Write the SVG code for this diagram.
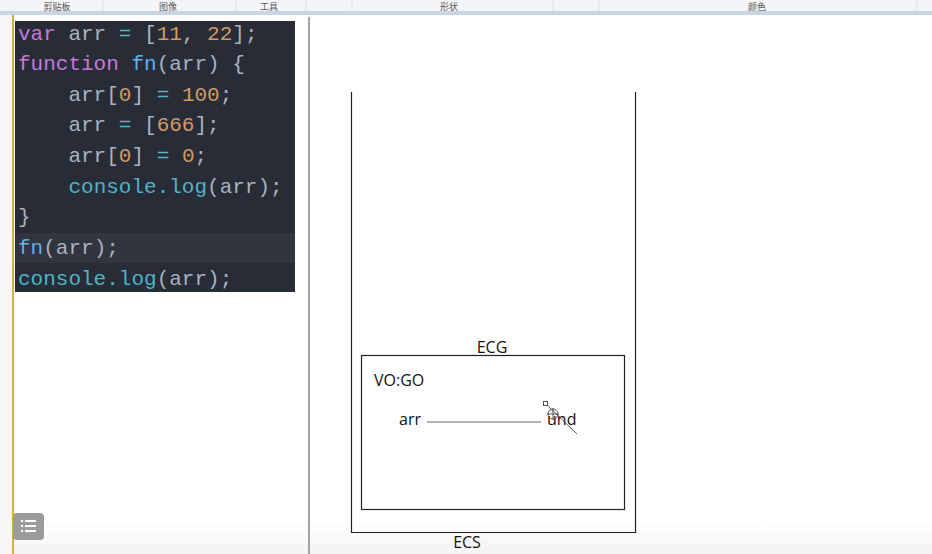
<svg xmlns="http://www.w3.org/2000/svg" width="932" height="554" viewBox="0 0 932 554">
<style>
.tb{font-family:"Noto Sans CJK SC","Noto Sans",sans-serif;font-size:9px;fill:#555;text-anchor:middle}
.code{font-family:"Liberation Mono","DejaVu Sans Mono",monospace;font-size:21px;fill:#abb2bf;white-space:pre}
.kw{fill:#c678dd}.num{fill:#d19a66}.op{fill:#56b6c2}.fn{fill:#61afef}.cl{fill:#4fb3c8}
.lbl{font-family:"Open Sans","Noto Sans",sans-serif;font-size:16px;fill:#111}
.box{fill:none;stroke:#222;stroke-width:1.2}
</style>
<defs>
<linearGradient id="bot" x1="0" y1="0" x2="0" y2="1"><stop offset="0" stop-color="#ffffff"/><stop offset="1" stop-color="#f3f3f3"/></linearGradient>
</defs>
<rect width="932" height="554" fill="#ffffff"/>
<rect x="0" y="520" width="932" height="34" fill="url(#bot)"/>
<g id="toolbar">
<rect x="0" y="0" width="932" height="12" fill="#f3f5f8"/>
<rect x="0" y="11" width="932" height="4" fill="#c9d4e5"/>
<g stroke="#dde2ea" stroke-width="1">
<line x1="103" y1="0" x2="103" y2="11"/><line x1="236" y1="0" x2="236" y2="11"/><line x1="306" y1="0" x2="306" y2="11"/><line x1="352" y1="0" x2="352" y2="11"/><line x1="553" y1="0" x2="553" y2="11"/><line x1="599" y1="0" x2="599" y2="11"/><line x1="917" y1="0" x2="917" y2="11"/>
</g>
<text class="tb" x="57" y="10">剪贴板</text>
<text class="tb" x="168" y="10">图像</text>
<text class="tb" x="269" y="10">工具</text>
<text class="tb" x="449" y="10">形状</text>
<text class="tb" x="757" y="10">颜色</text>
</g>
<rect x="0" y="15" width="12" height="539" fill="#f7f7f7"/>
<rect x="12" y="15" width="2" height="539" fill="#d6b23a"/>
<g id="code">
<rect x="15" y="21" width="280" height="271" fill="#282c36"/>
<rect x="15" y="233" width="280" height="30" fill="#30353f"/>
<text class="code" x="18" y="40"><tspan class="kw">var</tspan> arr <tspan class="op">=</tspan> [<tspan class="num">11</tspan>, <tspan class="num">22</tspan>];</text>
<text class="code" x="18" y="70"><tspan class="kw">function</tspan> <tspan class="fn">fn</tspan>(arr) {</text>
<text class="code" x="18" y="101">    arr[<tspan class="num">0</tspan>] <tspan class="op">=</tspan> <tspan class="num">100</tspan>;</text>
<text class="code" x="18" y="131">    arr <tspan class="op">=</tspan> [<tspan class="num">666</tspan>];</text>
<text class="code" x="18" y="162">    arr[<tspan class="num">0</tspan>] <tspan class="op">=</tspan> <tspan class="num">0</tspan>;</text>
<text class="code" x="18" y="193">    <tspan class="cl">console.log</tspan>(arr);</text>
<text class="code" x="18" y="223">}</text>
<text class="code" x="18" y="254"><tspan class="fn">fn</tspan>(arr);</text>
<text class="code" x="18" y="285"><tspan class="cl">console.log</tspan>(arr);</text>
</g>
<line x1="309" y1="17" x2="309" y2="554" stroke="#a3a3a3" stroke-width="2"/>
<g id="ECS">
<polyline class="box" points="351.5,92 351.5,532.5 635.5,532.5 635.5,92"/>
<text class="lbl" x="467" y="548" text-anchor="middle">ECS</text>
</g>
<g id="ECG">
<text class="lbl" x="492" y="353" text-anchor="middle">ECG</text>
<rect class="box" x="361.5" y="355.5" width="263" height="154"/>
<text class="lbl" x="374" y="386" font-size="17">VO:GO</text>
</g>
<g id="arr"><text class="lbl" x="399" y="425">arr</text></g>
<g id="und"><text class="lbl" x="547" y="425">und</text></g>
<g id="connectors">
<line x1="427" y1="422" x2="541" y2="422" stroke="#9a9a9a" stroke-width="1.5"/>
</g>
<g id="selection" fill="none" stroke="#444" stroke-width="0.9">
<line x1="546" y1="404" x2="577" y2="434"/>
<rect x="543.5" y="401.5" width="4" height="4" fill="#fff"/>
<circle cx="553" cy="414" r="5"/>
<path d="M547 414h12M553 408v12"/>
</g>
<g id="menu">
<rect x="13" y="513" width="31" height="27" rx="4" fill="#9b9b9b"/>
<g fill="#ffffff"><rect x="21" y="520" width="2" height="2"/><rect x="25" y="520" width="11" height="2"/><rect x="21" y="525" width="2" height="2"/><rect x="25" y="525" width="11" height="2"/><rect x="21" y="530" width="2" height="2"/><rect x="25" y="530" width="11" height="2"/></g>
</g>
</svg>
